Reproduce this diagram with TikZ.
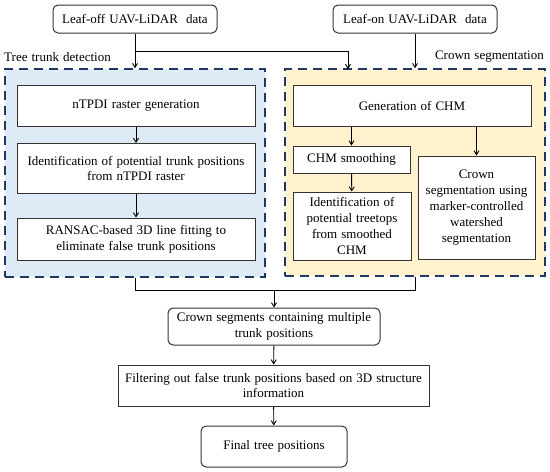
\documentclass[tikz,border=0pt]{standalone}
\usepackage{fontspec}
\setmainfont[WordSpace={1.25,1,1}]{Liberation Serif}
\usetikzlibrary{arrows.meta}
\definecolor{navy}{HTML}{1F3864}
\definecolor{lblue}{HTML}{DEEBF7}
\definecolor{lyell}{HTML}{FFF2CC}
\definecolor{edge}{HTML}{333333}
\tikzset{
  box/.style={draw=edge, line width=1pt, fill=white, rectangle, inner sep=0pt, align=center,
    font=\fontsize{13}{15.8}\selectfont},
  rbox/.style={box, rounded corners=5pt},
  group/.style={draw=navy, line width=1.6pt, dash pattern=on 9pt off 6pt, rectangle, inner sep=0pt},
  lbl/.style={inner sep=0pt, font=\fontsize{13}{15}\selectfont},
  conn/.style={draw=black, line width=0.9pt},
  arr/.style={conn, -{Straight Barb[length=4pt,width=5pt,line width=0.9pt]}}
}
\begin{document}
\begin{tikzpicture}[x=1pt,y=-1pt]
\useasboundingbox (0,0) rectangle (550,472);
% groups
\node[group, fill=lblue, minimum width=260pt, minimum height=208pt] (lb) at (135,173) {};
\node[group, fill=lyell, minimum width=260pt, minimum height=207pt] (rb) at (415,172.5) {};
\node[lbl, anchor=west] (lbt) at (4,57) {Tree trunk detection};
\node[lbl, anchor=east] (rbt) at (544,57) {Crown segmentation};
% top inputs
\node[rbox, minimum width=164pt, minimum height=28pt] (off) at (135,19) {Leaf-off UAV-LiDAR\ \ data};
\node[rbox, minimum width=164pt, minimum height=28pt] (on) at (415,19) {Leaf-on UAV-LiDAR\ \ data};
% left column
\node[box, minimum width=238pt, minimum height=41pt] (ntp) at (136,105.5) {nTPDI raster generation};
\node[box, minimum width=238pt, minimum height=50pt] (idt) at (136,168.5) {Identification of potential trunk positions\\from nTPDI raster};
\node[box, minimum width=238pt, minimum height=42pt] (ran) at (136,239) {RANSAC-based 3D line fitting to\\eliminate false trunk positions};
% right column
\node[box, minimum width=238pt, minimum height=41pt] (chm) at (412,105.5) {Generation of CHM};
\node[box, minimum width=117pt, minimum height=27pt] (smo) at (351.5,159.5) {CHM smoothing};
\node[box, minimum width=118pt, minimum height=68pt] (tt) at (352,226) {Identification of\\potential treetops\\from smoothed\\CHM};
\node[box, minimum width=117pt, minimum height=103pt] (cs) at (476.5,207.5) {Crown\\segmentation using\\marker-controlled\\watershed\\segmentation};
% bottom chain
\node[rbox, minimum width=212pt, minimum height=37pt] (cseg) at (274,326.5) {Crown segments containing multiple\\trunk positions};
\node[box, minimum width=311pt, minimum height=41pt] (flt) at (273.5,385.5) {Filtering out false trunk positions based on 3D structure\\information};
\node[rbox, minimum width=146pt, minimum height=41pt] (fin) at (274,446.5) {Final tree positions};
% connectors
\coordinate (br) at (135,51);
\coordinate (rin) at (348,69);
\draw[arr] (off) -- (lb.north);
\draw[conn] (br) -- (rin |- br);
\draw[arr] (rin |- br) -- (rin);
\draw[arr] (on) -- (rb.north);
\draw[arr] (ntp) -- (idt);
\draw[arr] (idt) -- (ran);
\draw[arr] (chm.south -| smo.north) -- (smo.north);
\draw[arr] (smo) -- (tt);
\draw[arr] (chm.south -| cs.north) -- (cs.north);
\coordinate (mj) at (274,290);
\draw[conn] (lb.south) |- (mj);
\draw[conn] (rb.south) |- (mj);
\draw[arr] (mj) -- (cseg);
\draw[arr] (cseg) -- (flt);
\draw[arr] (flt) -- (fin);
\end{tikzpicture}
\end{document}
